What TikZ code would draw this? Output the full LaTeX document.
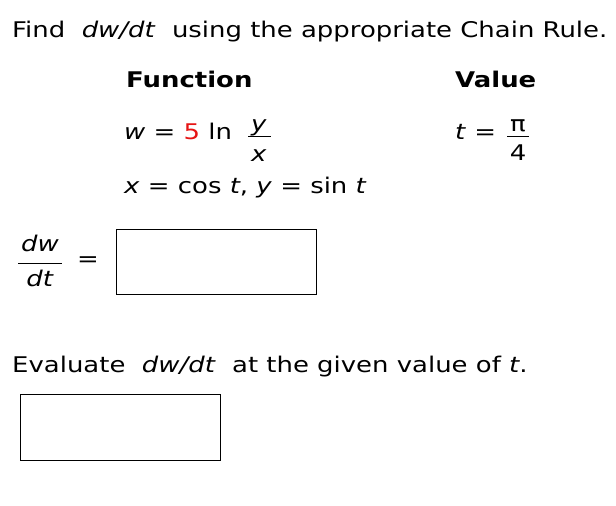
\documentclass[tikz,border=0pt]{standalone}
\usepackage{fontspec}
\setmainfont[FakeStretch=1.2]{DejaVu Sans}
\definecolor{myred}{RGB}{230,20,20}
\begin{document}
\begin{tikzpicture}[x=1pt,y=-1pt,
  txt/.style={anchor=base west,inner sep=0,font=\fontsize{21.6}{24}\selectfont},
  box/.style={draw,line width=1pt}]
\useasboundingbox (0,0) rectangle (616,506);
\node[txt] (title) at (12,37) {Find\ \ \textit{dw/dt}\ \ using the appropriate Chain Rule.};
\node[txt,font=\fontsize{21.6}{24}\selectfont\bfseries] (fun) at (126,87) {Function};
\node[txt,font=\fontsize{21.6}{24}\selectfont\bfseries] (val) at (455,87) {Value};
\node[txt] (w) at (124,139) {\textit{w} = \textcolor{myred}{5} ln};
\node[txt,anchor=base] (wy) at (259,131) {\textit{y}};
\node[txt,anchor=base] (wx) at (259,161) {\textit{x}};
\draw[line width=1pt] (248,136) -- (271,136);
\node[txt] (t) at (455,139) {\textit{t} =};
\node[txt,anchor=base] (pi) at (518,131) {π};
\node[txt,anchor=base] (four) at (518,160) {4};
\draw[line width=1pt] (507,136) -- (529,136);
\node[txt] (xy) at (124,193) {\textit{x} = cos \textit{t}, \textit{y} = sin \textit{t}};
\node[txt,anchor=base] (dw) at (40,251) {\textit{dw}};
\node[txt,anchor=base] (dt) at (40,286) {\textit{dt}};
\draw[line width=1pt] (18,263) -- (62,263);
\node[txt,anchor=base] (eq) at (88,266) {=};
\node[box,minimum width=200,minimum height=65,inner sep=0,anchor=north west] (b1) at (116,229) {};
\node[txt] (eval) at (12,372) {Evaluate\ \ \textit{dw/dt}\ \ at the given value of \textit{t}.};
\node[box,minimum width=200,minimum height=66,inner sep=0,anchor=north west] (b2) at (20,394) {};
\end{tikzpicture}
\end{document}
